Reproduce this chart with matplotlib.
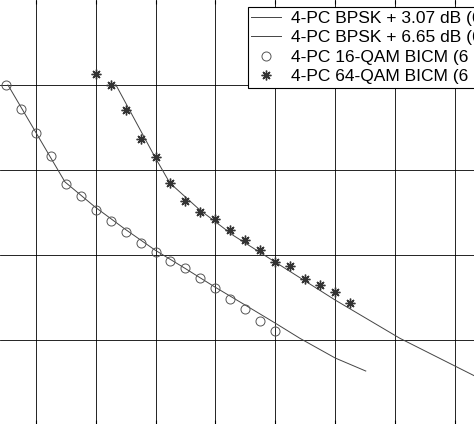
import matplotlib
matplotlib.use("Agg")
import matplotlib.pyplot as plt
import numpy as np

plt.rcParams['font.family'] = ['Liberation Sans', 'DejaVu Sans']

# x in grid units, y as log10 of error rate
qam16_x = [0.5 + 0.25 * i for i in range(19)]
qam16_logy = [-1.0, -1.282, -1.565, -1.835, -2.165, -2.306, -2.471, -2.6, -2.729, -2.859,
              -2.965, -3.071, -3.153, -3.271, -3.388, -3.518, -3.635, -3.776, -3.894]
bpsk1_x = [0.537, 1.489, 1.99, 2.5, 2.99, 3.5, 3.99, 4.5, 4.996, 5.41, 6.0, 6.51]
bpsk1_logy = [-1.0, -2.141, -2.435, -2.70, -2.941, -3.16, -3.376, -3.59, -3.8, -3.98, -4.212, -4.365]
qam64_x = [2.0 + 0.25 * i for i in range(18)]
qam64_logy = [-0.871, -1.0, -1.294, -1.635, -1.847, -2.153, -2.365, -2.494, -2.576, -2.706,
              -2.824, -2.941, -3.082, -3.129, -3.282, -3.353, -3.435, -3.565]
bpsk2_x = [2.34, 2.99, 3.24, 3.74, 4.3, 4.996, 6.0, 7.08, 8.32]
bpsk2_logy = [-1.0, -1.847, -2.153, -2.47, -2.77, -3.082, -3.53, -3.98, -4.42]

labels = ["4-PC BPSK + 3.07 dB (6 it.)", "4-PC BPSK + 6.65 dB (6 it.)",
          "4-PC 16-QAM BICM (6 it.)", "4-PC 64-QAM BICM (6 it.)"]

fig = plt.figure(figsize=(4.74, 4.24), dpi=100)
ax = fig.add_axes([0, 0, 1, 1])
p = lambda v: [10 ** a for a in v]
l1, = ax.plot(bpsk1_x, p(bpsk1_logy), color='#444444', lw=0.7)
l2, = ax.plot(bpsk2_x, p(bpsk2_logy), color='#444444', lw=0.7)
m1, = ax.plot(qam16_x, p(qam16_logy), 'o', mfc='none', mec='#555555', ms=6.5, mew=0.7)
m2, = ax.plot(qam64_x, p(qam64_logy), ls='none', marker=(8, 2, 0), color='#333333', ms=7, mew=1.0)
ax.set_yscale('log')
ax.set_xlim(1 - 35.7 / 59.9, 1 + 438.3 / 59.9)
ax.set_ylim(10 ** (-1 - 339 / 85), 1.0)
ax.set_xticks(range(1, 9))
ax.set_yticks([1e-1, 1e-2, 1e-3, 1e-4])
ax.yaxis.set_minor_locator(matplotlib.ticker.NullLocator())
ax.grid(True, color='black', lw=0.6)
ax.tick_params(direction='in', top=True, bottom=True, left=False, right=False, length=3,
               labelbottom=False, labelleft=False)
for s in ax.spines.values():
    s.set_visible(False)
leg = ax.legend([l1, l2, m1, m2], labels, loc='upper left',
                bbox_to_anchor=(248 / 474, 1 - 7 / 424), fontsize=12.5, frameon=True,
                fancybox=False, edgecolor='black', framealpha=1, handlelength=1.7,
                borderpad=0.2, labelspacing=0.25, handletextpad=0.55, borderaxespad=0)
leg.get_frame().set_linewidth(0.8)
fig.savefig('out.png', dpi=100)
